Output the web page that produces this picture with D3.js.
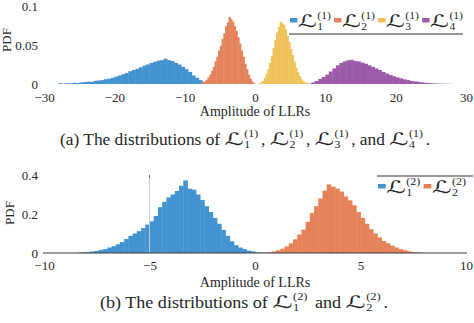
<!DOCTYPE html>
<html><head><meta charset="utf-8">
<script src="https://cdn.jsdelivr.net/npm/d3@7"></script>
<style>
html,body{margin:0;padding:0;background:#fff;}
svg{display:block;}
svg text{font-family:"Liberation Serif","Times New Roman",serif !important;fill:#262626;}
svg text.cal{font-family:"DejaVu Serif","DejaVu Sans",serif !important;}
</style></head>
<body>
<svg id="c" width="474" height="323"></svg>
<script>
// ---------- DATA ----------
const topXTicks = [-30, -20, -10, 0, 10, 20, 30];
const topYTicks = [0, 0.05, 0.1];
const botXTicks = [-10, -5, 0, 5, 10];
const botYTicks = [0, 0.2, 0.4];

// top panel histograms (start, bin width, heights)
const topBlueStart = -28, topBlueStep = 0.5;
const topBlue = [.001,.0005,.001,.0008,.0015,.0012,.002,.0025,.003,.0028,.004,.0045,.005,.0062,.0068,.008,.0095,.011,.0125,.014,.0165,.018,.0195,.0215,.0235,.025,.027,.0285,.030,.0305,.0325,.0305,.0295,.027,.025,.022,.019,.0155,.011,.008,.005,.0025,.001,.0005];
const topOrangeStart = -8, topOrangeStep = 0.25;
const topOrange = [.0004,.001,.002,.0035,.0055,.0085,.012,.017,.022,.029,.035,.043,.049,.058,.065,.074,.079,.086,.083,.080,.074,.068,.060,.052,.043,.035,.026,.019,.012,.007,.003,.001];
const topYellowStart = 0.5, topYellowStep = 0.25;
const topYellow = [.0008,.002,.004,.008,.013,.019,.027,.036,.046,.056,.066,.073,.080,.078,.076,.070,.062,.054,.045,.037,.029,.021,.015,.010,.006,.0035,.002,.001];
const topPurpleStart = 7.5, topPurpleStep = 0.5;
const topPurple = [.0005,.002,.004,.0065,.009,.012,.016,.020,.024,.027,.029,.0305,.031,.0295,.029,.0275,.026,.024,.022,.020,.018,.0155,.0135,.0115,.010,.0085,.0072,.006,.005,.004,.0033,.0027,.002,.0016,.0012,.0009,.0007,.0005,.0004,.0003,.0002];

// bottom panel histograms
const botBlueStart = -8.4, botBlueStep = 0.2;
const botBlue = [.002,.004,.005,.008,.011,.016,.020,.028,.035,.045,.056,.072,.088,.100,.112,.128,.146,.162,.190,.235,.262,.285,.300,.318,.345,.372,.330,.325,.300,.272,.240,.210,.180,.150,.118,.088,.060,.040,.028,.020,.012,.008,.004,.002,.001];
const botOrangeStart = 0.4, botOrangeStep = 0.2;
const botOrange = [.001,.004,.008,.014,.022,.034,.050,.070,.095,.120,.160,.205,.240,.280,.320,.352,.340,.330,.315,.290,.270,.245,.210,.180,.150,.122,.100,.080,.062,.050,.038,.028,.020,.014,.009,.005,.003,.001];
const botMarkerX = [-5];
const botMarkerTop = 0.4;

const colors = {blue:"#4393d0", orange:"#e4825a", yellow:"#efc25a", purple:"#9b5ba8"};
const topLegend = [{c:"blue",sub:"1",sup:"(1)"},{c:"orange",sub:"2",sup:"(1)"},{c:"yellow",sub:"3",sup:"(1)"},{c:"purple",sub:"4",sup:"(1)"}];
const botLegend = [{c:"blue",sub:"1",sup:"(2)"},{c:"orange",sub:"2",sup:"(2)"}];
const xLabel = "Amplitude of LLRs";
const yLabel = "PDF";
const capA = ["(a) The distributions of ", {sub:"1",sup:"(1)"}, ", ", {sub:"2",sup:"(1)"}, ", ", {sub:"3",sup:"(1)"}, ", and ", {sub:"4",sup:"(1)"}, "."];
const capB = ["(b) The distributions of ", {sub:"1",sup:"(2)"}, " and ", {sub:"2",sup:"(2)"}, "."];

// ---------- DRAW ----------
const svg = d3.select("#c");
const SCRIPT_L = "\u2112";
const CAL_STRETCH = 1.45;

function hist(g, x, y, start, step, vals, color){
  g.append("g").selectAll("rect").data(vals).join("rect")
    .attr("x", (d,i)=>x(start+i*step))
    .attr("width", (d,i)=>x(start+(i+1)*step)-x(start+i*step)+0.4)
    .attr("y", d=>y(d))
    .attr("height", d=>y(0)-y(d))
    .attr("fill", color);
}

// math token: script L with stacked sub/sup
function mathTok(g, x, yb, tok, big, small){
  const t = g.append("text").attr("class","cal").attr("x",0).attr("y",0).attr("font-size",big)
    .attr("transform",`translate(${x},${yb}) scale(${CAL_STRETCH},1)`).text(SCRIPT_L);
  const w = t.node().getComputedTextLength()*CAL_STRETCH;
  const s1 = g.append("text").attr("x",x+w+0.5).attr("y",yb+big*0.2).attr("font-size",small).text(tok.sub);
  const s2 = g.append("text").attr("x",x+w+0.5).attr("y",yb-big*0.45).attr("font-size",small).text(tok.sup);
  return w + 0.5 + Math.max(s1.node().getComputedTextLength(), s2.node().getComputedTextLength());
}

function caption(x0, x1, yb, pieces){
  const g = svg.append("g");
  let x = 0;
  pieces.forEach(p=>{
    if (typeof p === "string"){
      const t = g.append("text").attr("x",x).attr("y",0).attr("font-size",16).style("white-space","pre").text(p);
      x += t.node().getComputedTextLength();
    } else {
      x += mathTok(g, x, 0, p, 17, 11) + 2.5;
    }
  });
  const sx = (x1 - x0) / x;
  g.attr("transform", `translate(${x0},${yb}) scale(${sx},1)`);
}

function legend(items, x0, x1, yb, lineY, lineX0, lineX1){
  const g = svg.append("g");
  let x = 0;
  items.forEach((it,i)=>{
    g.append("rect").attr("x",x).attr("y",yb-9).attr("width",7).attr("height",4.5).attr("fill",colors[it.c]);
    x += 7.5;
    x += mathTok(g, x, yb, it, 17, 11) + (i < items.length-1 ? 3 : 0);
  });
  const sx = (x1 - x0) / x;
  g.attr("transform", `translate(${x0},0) scale(${sx},1)`);
  svg.append("line").attr("x1",lineX0).attr("x2",lineX1).attr("y1",lineY).attr("y2",lineY)
    .attr("stroke","#333").attr("stroke-width",1);
}

function panel(o){
  const x = d3.scaleLinear().domain(o.xd).range([44,466]);
  const y = d3.scaleLinear().domain(o.yd).range(o.yr);
  const g = svg.append("g");
  o.series.forEach(s=>hist(g, x, y, s[0], s[1], s[2], s[3]));
  if (o.markers){
    o.markers.forEach(m=>{
      g.append("line").attr("x1",x(m)).attr("x2",x(m)).attr("y1",y(o.markerTop)).attr("y2",y(0))
        .attr("stroke","#c8c8c8").attr("stroke-width",1);
      g.append("line").attr("x1",x(m)).attr("x2",x(m)).attr("y1",y(o.markerTop)).attr("y2",y(o.markerTop)+3)
        .attr("stroke","#666").attr("stroke-width",1);
    });
  }
  const xa = g.append("g").attr("transform",`translate(0,${y(0)})`)
    .call(d3.axisBottom(x).tickValues(o.xt).tickSize(0).tickSizeOuter(0).tickPadding(o.xpad).tickFormat(d3.format("d")));
  if (o.domain) xa.select(".domain").attr("stroke","#3a3a3a").attr("stroke-width",1).attr("d",`M${x.range()[0]-1},0H${x.range()[1]+1}`);
  else xa.select(".domain").remove();
  xa.attr("font-family","Liberation Serif").attr("font-size",13);
  xa.selectAll("text").attr("fill","#262626");
  const ya = g.append("g").attr("transform","translate(44,0)")
    .call(d3.axisLeft(y).tickValues(o.yt).tickSize(0).tickPadding(6).tickFormat(d=>d===0?"0":String(d)));
  ya.select(".domain").remove();
  ya.attr("font-family","Liberation Serif").attr("font-size",13);
  ya.selectAll("text").attr("fill","#262626");
  svg.append("text").attr("x",255).attr("y",o.xlY).attr("text-anchor","middle").attr("font-size",14).text(xLabel);
  svg.append("text").attr("transform",`translate(${o.ylX},${o.ylY}) rotate(-90)`).attr("text-anchor","middle").attr("font-size",13).text(yLabel);
}

panel({xd:[-30,30], yd:[0,0.1], yr:[84,6], xt:topXTicks, yt:topYTicks, xpad:9, domain:false,
  series:[[topBlueStart,topBlueStep,topBlue,colors.blue],[topOrangeStart,topOrangeStep,topOrange,colors.orange],
          [topYellowStart,topYellowStep,topYellow,colors.yellow],[topPurpleStart,topPurpleStep,topPurple,colors.purple]],
  xlY:116, ylX:11, ylY:40});
panel({xd:[-10,10], yd:[0,0.4], yr:[253,175], xt:botXTicks, yt:botYTicks, xpad:8, domain:true,
  markers:botMarkerX, markerTop:botMarkerTop,
  series:[[botBlueStart,botBlueStep,botBlue,colors.blue],[botOrangeStart,botOrangeStep,botOrange,colors.orange]],
  xlY:287, ylX:14, ylY:213});

legend(topLegend, 290, 463, 27, 34, 289, 463);
legend(botLegend, 378, 466, 193, 176, 377, 473);

caption(60, 430, 145, capA);
caption(100, 388, 308, capB);
</script>
</body></html>
